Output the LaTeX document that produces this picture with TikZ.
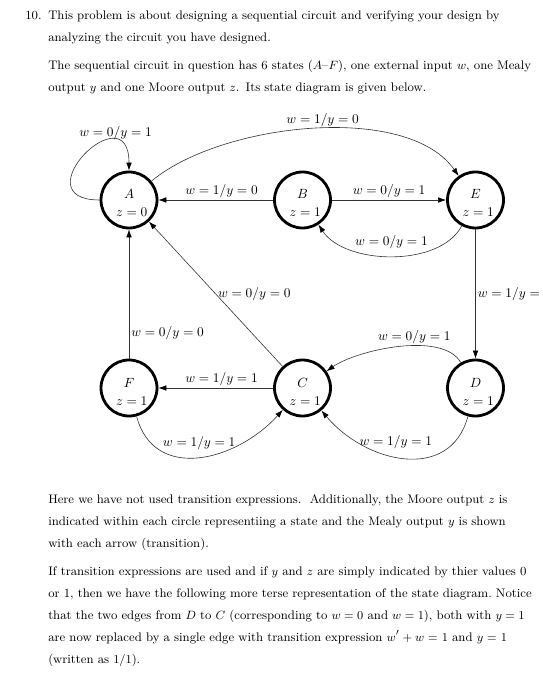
\documentclass[tikz,border=0pt]{standalone}
\usepackage{amsmath}
\usetikzlibrary{arrows.meta}

% one justified line of the problem text
\newcommand{\fullline}[1]{\makebox[344pt][s]{#1}}
% name of a state over its Moore output
\newcommand{\statetext}[2]{\rule{0pt}{12pt}$#1$\\[1.5pt]\hspace*{4pt}$z=#2$}

\begin{document}
\begin{tikzpicture}[x=0.75pt,y=0.75pt,
    state/.style={circle, draw, line width=2.1pt, minimum size=42pt, inner sep=0pt, align=center},
    trans/.style={draw=black!80, line width=0.45pt, -{Latex[length=6pt,width=4.2pt,color=black]}},
    lbl/.style={inner sep=1.5pt},
    para/.style={anchor=base west, inner sep=0pt, text width=344pt, align=left, font=\fontsize{9.3}{16.5}\selectfont}]
  \useasboundingbox (0,0) rectangle (542,-680);

  % problem text
  \node[anchor=base west, inner sep=0pt, font=\fontsize{9.3}{16.5}\selectfont] (num) at (25,-20) {10.};
  \node[para] (intro) at (48,-20) {\fullline{This problem is about designing a sequential circuit and verifying your design by}\\
    analyzing the circuit you have designed.};
  \node[para] (given) at (48,-70) {\fullline{The sequential circuit in question has 6 states ($A$--$F$), one external input $w$, one Mealy}\\
    output $y$ and one Moore output $z$. Its state diagram is given below.};

  % states
  \node[state] (A) at (129,-200) {\statetext{A}{0}};
  \node[state] (B) at (302.5,-200) {\statetext{B}{1}};
  \node[state] (E) at (475.5,-200) {\statetext{E}{1}};
  \node[state] (F) at (129,-388) {\statetext{F}{1}};
  \node[state] (C) at (302.5,-388) {\statetext{C}{1}};
  \node[state] (D) at (475.5,-388) {\statetext{D}{1}};

  % transitions
  \draw[trans] (A.west) .. controls +(-80,0) and +(0,80) .. node[pos=0.7,above,lbl,xshift=6pt] {$w=0/y=1$} (A.north);
  \draw[trans] (A) to[out=40,in=125,looseness=0.75] node[above,lbl,pos=0.53] {$w=1/y=0$} (E);
  \draw[trans] (B) -- node[above,lbl,pos=0.45] {$w=1/y=0$} (A);
  \draw[trans] (B) -- node[above,lbl] {$w=0/y=1$} (E);
  \draw[trans] (E) to[out=242,in=303,looseness=0.85] node[above=4pt,lbl] {$w=0/y=1$} (B);
  \draw[trans] (E) -- node[right,lbl] {$w=1/y={}$} (D);
  \draw[trans] (D) to[out=120,in=35,looseness=0.7] node[above,lbl,pos=0.4] {$w=0/y=1$} (C);
  \draw[trans] (D) to[out=255,in=310,looseness=1.2] node[above=4pt,lbl,pos=0.55] {$w=1/y=1$} (C);
  \draw[trans] (C) -- node[above,lbl,pos=0.45] {$w=1/y=1$} (F);
  \draw[trans] (F) to[out=-75,in=228,looseness=1.2] node[above=4pt,lbl] {$w=1/y=1$} (C);
  \draw[trans] (F) -- node[right,lbl,pos=0.2] {$w=0/y=0$} (A);
  \draw[trans] (C) -- node[right,lbl] {$w=0/y=0$} (A);

  % remarks
  \node[para] (remark) at (48,-503) {\fullline{Here we have not used transition expressions.\ \ Additionally, the Moore output $z$ is}\\
    \fullline{indicated within each circle representiing a state and the Mealy output $y$ is shown}\\
    with each arrow (transition).};
  \node[para] (terse) at (48,-575) {\fullline{If transition expressions are used and if $y$ and $z$ are simply indicated by thier values 0}\\
    \fullline{or 1, then we have the following more terse representation of the state diagram.\ Notice}\\
    \fullline{that the two edges from $D$ to $C$ (corresponding to $w=0$ and $w=1$), both with $y=1$}\\
    \fullline{are now replaced by a single edge with transition expression $w'+w=1$ and $y=1$}\\
    (written as $1/1$).};
\end{tikzpicture}
\end{document}
